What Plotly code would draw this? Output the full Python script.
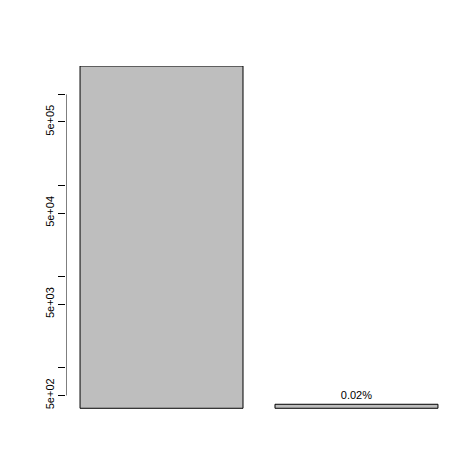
import math
import plotly.graph_objects as go

categories = ["A", "B"]
values = [2.05e6, 400]
bar_labels = ["", "0.02%"]
tick_vals = [500, 1000, 5000, 10000, 50000, 100000, 500000, 1000000]
tick_text = ["5e+02", "", "5e+03", "", "5e+04", "", "5e+05", ""]

base = 361.5
fig = go.Figure()
fig.add_trace(go.Bar(
    x=[0, 1], y=[v - base for v in values], base=base, width=0.836,
    marker=dict(color="#bebebe", line=dict(color="black", width=1)),
    text=bar_labels, textposition="outside",
    textfont=dict(family="Liberation Sans, Arial", size=11, color="black"),
    cliponaxis=False, hoverinfo="skip",
))
fig.add_trace(go.Scatter(
    x=[-0.49, -0.49], y=[500, 1e6], mode="lines",
    line=dict(color="black", width=1), cliponaxis=False, hoverinfo="skip",
))
fig.update_layout(
    width=474, height=474, plot_bgcolor="white", paper_bgcolor="white",
    margin=dict(l=58, r=30, t=58, b=73, autoexpand=False), showlegend=False,
    font=dict(family="Liberation Sans, Arial", size=11, color="black"),
    xaxis=dict(range=[-0.49, 1.49], visible=False),
    yaxis=dict(type="log", range=[math.log10(355), math.log10(2.05e6)],
               tickvals=tick_vals, ticktext=tick_text, tickangle=-90,
               ticks="outside", ticklen=7, tickcolor="black", automargin=False,
               showgrid=False, zeroline=False, showline=False),
)
fig.write_html("out.html")
